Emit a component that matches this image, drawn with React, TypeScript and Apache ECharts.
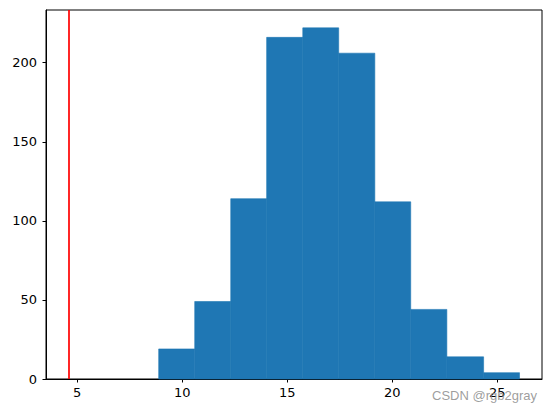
import React, { useEffect, useRef } from "react";
import * as echarts from "echarts";

const binEdges = [8.88, 10.595, 12.31, 14.02, 15.74, 17.45, 19.17, 20.88, 22.6, 24.35, 26.06];
const counts = [19, 49, 114, 216, 222, 206, 112, 44, 14, 4];
const redLineX = 4.59;
const xTicks = [5, 10, 15, 20, 25];
const yTicks = [0, 50, 100, 150, 200];
const watermark = "CSDN @rgb2gray";

export default function App() {
  const ref = useRef<HTMLDivElement>(null);
  useEffect(() => {
    if (!ref.current) return;
    const chart = echarts.init(ref.current, null, { renderer: "svg" });
    const data = counts.map((c, i) => [binEdges[i], binEdges[i + 1], c]);
    const axisText = { color: "#000", fontSize: 13, fontFamily: "DejaVu Sans" };
    chart.setOption({
      animation: false,
      grid: {
        left: 46,
        top: 10,
        right: 10,
        bottom: 34,
        show: true,
        borderColor: "#000",
        borderWidth: 1,
        backgroundColor: "transparent",
      },
      xAxis: {
        type: "value",
        min: 3.514,
        max: 27.13,
        splitLine: { show: false },
        axisLine: { show: true, onZero: false, lineStyle: { color: "#000", width: 1 } },
        axisTick: { show: true, length: 3.5, lineStyle: { color: "#000" }, customValues: xTicks },
        axisLabel: { ...axisText, margin: 7, customValues: xTicks },
      },
      yAxis: {
        type: "value",
        min: 0,
        max: 233.3,
        splitLine: { show: false },
        axisLine: { show: true, lineStyle: { color: "#000", width: 1 } },
        axisTick: { show: true, length: 3.5, lineStyle: { color: "#000" }, customValues: yTicks },
        axisLabel: { ...axisText, margin: 9, customValues: yTicks },
      },
      series: [
        {
          type: "custom",
          data,
          encode: { x: [0, 1], y: 2 },
          renderItem: (params: any, api: any) => {
            const s = api.coord([api.value(0), api.value(2)]);
            const e = api.coord([api.value(1), 0]);
            return {
              type: "rect",
              shape: { x: s[0], y: s[1], width: e[0] - s[0], height: e[1] - s[1] },
              style: { fill: "#1f77b4", stroke: "#1f77b4", lineWidth: 0.6 },
            };
          },
          markLine: {
            silent: true,
            symbol: "none",
            label: { show: false },
            lineStyle: { color: "#ff0000", width: 1.7, type: "solid" },
            data: [{ xAxis: redLineX }],
          },
        },
      ],
      graphic: [
        {
          type: "text",
          right: 15,
          top: 389,
          z: 100,
          style: {
            text: watermark,
            fill: "rgba(140,140,140,0.85)",
            font: "13px 'Liberation Sans', Arial, sans-serif",
          },
        },
      ],
    });
    return () => chart.dispose();
  }, []);
  return (
    <div
      ref={ref}
      style={{ position: "fixed", left: 0, top: 0, width: 552, height: 413, background: "#fff" }}
    />
  );
}
